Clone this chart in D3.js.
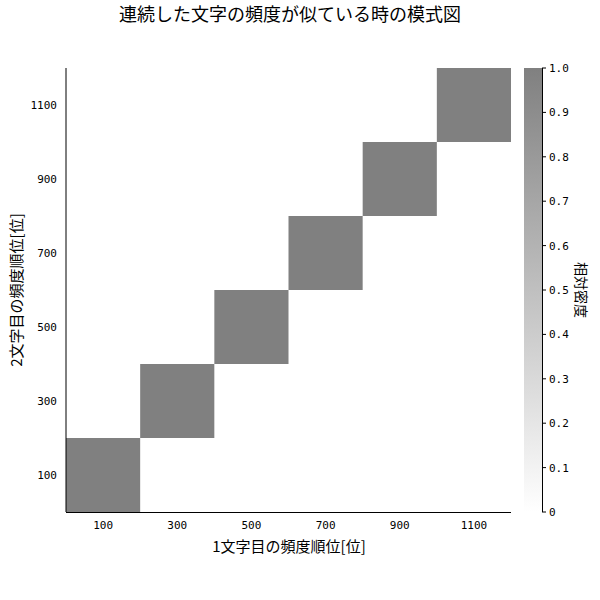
<!DOCTYPE html><html><head><meta charset="utf-8">
<script src="https://d3js.org/d3.v7.min.js"></script>
<style>body{margin:0;background:#fff}</style></head><body>
<script>
const blockStarts=[0,200,400,600,800,1000];
const blockSize=200;
const blockValues=[1,1,1,1,1,1];
const tickVals=[100,300,500,700,900,1100];
const cbTicks=[0,0.1,0.2,0.3,0.4,0.5,0.6,0.7,0.8,0.9,1.0];
const title="連続した文字の頻度が似ている時の模式図";
const xLabel="1文字目の頻度順位[位]", yLabel="2文字目の頻度順位[位]", cLabel="相対密度";

const svg=d3.select("body").append("svg").attr("width",600).attr("height",600);
const x=d3.scaleLinear().domain([0,1200]).range([66,511]);
const y=d3.scaleLinear().domain([0,1200]).range([512,68]);
const col=d3.scaleLinear().domain([0,1]).range(["#ffffff","#808080"]);
const mono="'DejaVu Sans Mono',monospace", cjk="'Noto Sans CJK JP',sans-serif";

svg.selectAll("rect.b").data(blockStarts).join("rect")
 .attr("x",d=>x(d)).attr("y",d=>y(d+blockSize)).attr("width",d=>x(d+blockSize)-x(d))
 .attr("height",d=>y(d)-y(d+blockSize)).attr("fill",(d,i)=>col(blockValues[i]));
svg.append("line").attr("x1",66).attr("x2",66).attr("y1",68).attr("y2",512).attr("stroke","#000");
svg.append("line").attr("x1",66).attr("x2",511).attr("y1",512.5).attr("y2",512.5).attr("stroke","#000");
svg.selectAll("text.xt").data(tickVals).join("text").attr("x",d=>x(d)).attr("y",529)
 .attr("text-anchor","middle").attr("font-family",mono).attr("font-size",11).text(d=>d);
svg.selectAll("text.yt").data(tickVals).join("text").attr("x",57).attr("y",d=>y(d)+4)
 .attr("text-anchor","end").attr("font-family",mono).attr("font-size",11).text(d=>d);

svg.append("text").attr("x",290).attr("y",21).attr("text-anchor","middle").attr("font-family",cjk).attr("font-size",18).text(title);
svg.append("text").attr("x",289).attr("y",552).attr("text-anchor","middle").attr("font-family",cjk).attr("font-size",15).text(xLabel);
svg.append("text").attr("transform","translate(22,290) rotate(-90)").attr("text-anchor","middle").attr("font-family",cjk).attr("font-size",15).text(yLabel);

// colorbar
const cy=d3.scaleLinear().domain([0,1]).range([512,68]);
const defs=svg.append("defs");
const g=defs.append("linearGradient").attr("id","cg").attr("x1",0).attr("x2",0).attr("y1",1).attr("y2",0);
g.append("stop").attr("offset",0).attr("stop-color",col(0));
g.append("stop").attr("offset",1).attr("stop-color",col(1));
svg.append("rect").attr("x",524).attr("y",68).attr("width",18).attr("height",444).attr("fill","url(#cg)");
svg.append("line").attr("x1",542.5).attr("x2",542.5).attr("y1",68).attr("y2",512).attr("stroke","#000");
const cg=svg.selectAll("g.ct").data(cbTicks).join("g").attr("transform",d=>`translate(542,${cy(d)})`);
cg.append("line").attr("x2",4).attr("stroke","#000");
cg.append("text").attr("x",7).attr("y",4).attr("font-family",mono).attr("font-size",11).text(d=>d===1?"1.0":d===0?"0":d.toFixed(1));
svg.append("text").attr("transform","translate(576,290) rotate(90)").attr("text-anchor","middle").attr("font-family",cjk).attr("font-size",14).text(cLabel);
</script></body></html>
